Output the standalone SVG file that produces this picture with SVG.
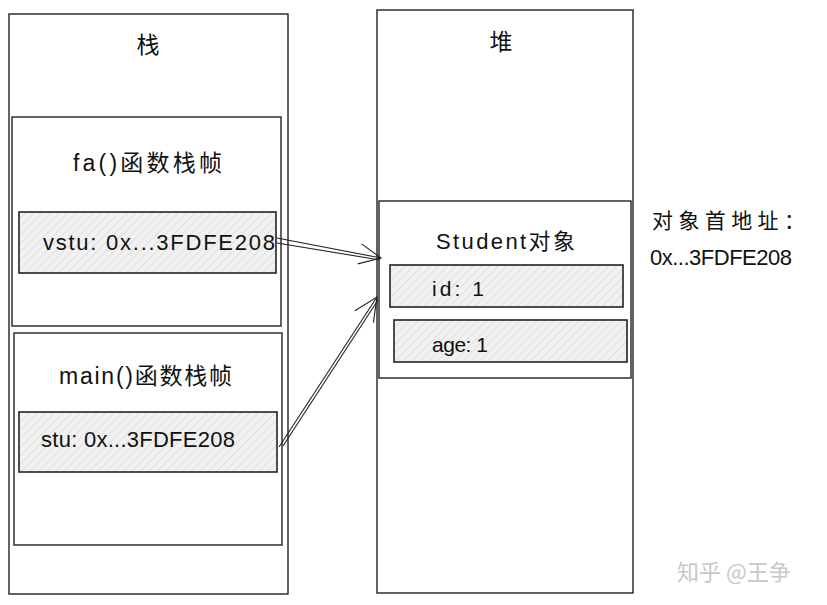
<svg xmlns="http://www.w3.org/2000/svg" width="827" height="605" viewBox="0 0 827 605">
<style>
.box{fill:#fff;stroke:#222;stroke-width:1.4}
.hatch{fill:url(#h);stroke:#222;stroke-width:1.6}
.t{font-family:"Liberation Sans","Noto Sans CJK SC",sans-serif;fill:#111}
.c{stroke:#222;stroke-width:1.1;fill:none}
</style>
<defs>
<pattern id="h" width="6" height="6" patternUnits="userSpaceOnUse" patternTransform="rotate(45)">
<rect width="6" height="6" fill="#f1f1f1"/>
<line x1="0" y1="0" x2="0" y2="6" stroke="#d0d0d0" stroke-width="1"/>
</pattern>
</defs>
<rect width="827" height="605" fill="#fff"/>
<g id="stack">
<rect class="box" x="9" y="14" width="279" height="580"/>
<text class="t" x="148" y="53" font-size="23" text-anchor="middle">栈</text>
</g>
<g id="heap">
<rect class="box" x="377" y="10" width="256" height="583"/>
<text class="t" x="501" y="50" font-size="23" text-anchor="middle">堆</text>
</g>
<g id="fa-frame">
<rect class="box" x="12" y="117" width="269" height="209"/>
<text class="t" x="73" y="171" font-size="23" textLength="149">fa()函数栈帧</text>
</g>
<g id="vstu">
<rect class="hatch" x="19" y="212" width="257" height="61"/>
<text class="t" x="43" y="250" font-size="22" textLength="232">vstu: 0x...3FDFE208</text>
</g>
<g id="main-frame">
<rect class="box" x="14" y="333" width="268" height="212"/>
<text class="t" x="59" y="384" font-size="23" textLength="173">main()函数栈帧</text>
</g>
<g id="stu">
<rect class="hatch" x="19" y="412" width="258" height="60"/>
<text class="t" x="41" y="447" font-size="22" textLength="194">stu: 0x...3FDFE208</text>
</g>
<g id="student">
<rect class="box" x="379" y="201" width="252" height="177"/>
<text class="t" x="436" y="249" font-size="22" textLength="139">Student对象</text>
</g>
<g id="id">
<rect class="hatch" x="390" y="265" width="233" height="42"/>
<text class="t" x="432" y="296" font-size="21" textLength="52">id: 1</text>
</g>
<g id="age">
<rect class="hatch" x="394" y="320" width="233" height="42"/>
<text class="t" x="432" y="352" font-size="21" textLength="56">age: 1</text>
</g>
<g id="connectors">
<path class="c" d="M277,238 L381,258"/>
<path class="c" d="M277,243 L380,260"/>
<path class="c" d="M361.6,243.9 L381,258 L357.7,263.9"/>
<path class="c" d="M279,447 L377,297"/>
<path class="c" d="M283,446 L378,300"/>
<path class="c" d="M354.9,310.7 L377,297 L373.4,322.7"/>
</g>
<g id="address-note">
<text class="t" x="652" y="228" font-size="21" textLength="153">对象首地址：</text>
<text class="t" x="650" y="265" font-size="22" textLength="142">0x...3FDFE208</text>
</g>
<g id="watermark">
<text x="677" y="580" font-size="22" fill="#c8c8c8" font-family="'Noto Sans CJK SC',sans-serif">知乎 @王争</text>
</g>
</svg>
